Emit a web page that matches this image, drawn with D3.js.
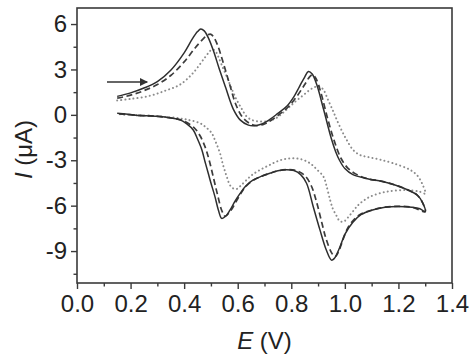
<!DOCTYPE html>
<html><head><meta charset="utf-8">
<script src="https://cdn.jsdelivr.net/npm/d3@7"></script>
<style>body{margin:0;background:#fff}svg{display:block}text{font-family:"Liberation Sans",Arial,sans-serif;fill:#222}</style>
</head><body><svg id="c" width="474" height="356"></svg>
<script>
const xTicks = [0.0,0.2,0.4,0.6,0.8,1.0,1.2,1.4];
const xTickLabels = ["0.0","0.2","0.4","0.6","0.8","1.0","1.2","1.4"];
const xMinor = [0.1,0.3,0.5,0.7,0.9,1.1,1.3];
const yTicks = [-9,-6,-3,0,3,6];
const yTickLabels = ["-9","-6","-3","0","3","6"];
const yMinor = [-10.5,-7.5,-4.5,-1.5,1.5,4.5];

const solidE = [0.15,0.20,0.25,0.30,0.35,0.40,0.43,0.45,0.462,0.475,0.49,0.51,0.53,0.555,0.583,0.61,0.64,0.66,0.69,0.72,0.75,0.785,0.81,0.83,0.85,0.864,0.878,0.895,0.92,0.95,0.965,0.98,1.00,1.03,1.08,1.14,1.19,1.24,1.27,1.29,1.30,
 1.28,1.25,1.20,1.15,1.10,1.06,1.03,1.00,0.98,0.96,0.95,0.93,0.907,0.882,0.857,0.835,0.81,0.78,0.75,0.72,0.69,0.658,0.63,0.609,0.59,0.571,0.555,0.54,0.528,0.515,0.50,0.49,0.478,0.466,0.45,0.434,0.41,0.385,0.35,0.30,0.22,0.15];
const solidI = [1.22,1.45,1.77,2.2,2.95,4.1,5.0,5.5,5.68,5.55,5.1,4.2,3.1,1.8,0.4,-0.35,-0.68,-0.72,-0.6,-0.3,0.1,0.6,1.2,1.85,2.5,2.87,2.7,2.0,0.4,-1.6,-2.4,-3.0,-3.55,-3.95,-4.2,-4.4,-4.65,-5.0,-5.3,-5.8,-6.4,
 -6.2,-6.1,-6.05,-6.1,-6.3,-6.6,-7.1,-7.9,-8.8,-9.5,-9.6,-8.9,-7.6,-6.07,-4.52,-3.95,-3.68,-3.62,-3.7,-3.86,-4.05,-4.3,-4.7,-5.19,-5.7,-6.3,-6.7,-6.84,-6.3,-5.4,-4.5,-3.86,-3.1,-2.3,-1.6,-1.0,-0.6,-0.33,-0.2,-0.1,-0.02,0.1];

const dashedE = [0.15,0.20,0.25,0.30,0.35,0.40,0.44,0.47,0.49,0.50,0.51,0.525,0.545,0.57,0.595,0.62,0.65,0.67,0.70,0.73,0.76,0.79,0.82,0.85,0.87,0.88,0.892,0.91,0.935,0.96,0.985,1.01,1.04,1.08,1.14,1.19,1.24,1.27,1.29,1.30,
 1.25,1.20,1.15,1.10,1.06,1.035,1.01,0.99,0.975,0.963,0.95,0.93,0.915,0.895,0.875,0.85,0.82,0.79,0.75,0.72,0.69,0.66,0.635,0.615,0.595,0.575,0.553,0.54,0.525,0.51,0.495,0.48,0.46,0.44,0.41,0.38,0.30,0.22,0.15];
const dashedI = [1.1,1.3,1.6,2.0,2.6,3.5,4.4,5.0,5.3,5.32,5.15,4.6,3.5,2.0,0.6,-0.2,-0.62,-0.72,-0.6,-0.3,0.1,0.55,1.2,2.0,2.55,2.65,2.4,1.5,-0.2,-1.7,-2.85,-3.5,-3.9,-4.2,-4.4,-4.65,-5.0,-5.3,-5.8,-6.4,
 -6.1,-6.05,-6.1,-6.3,-6.55,-6.9,-7.5,-8.4,-9.1,-9.38,-9.1,-8.2,-7.2,-5.8,-4.7,-4.0,-3.7,-3.62,-3.7,-3.86,-4.05,-4.3,-4.65,-5.1,-5.7,-6.3,-6.7,-6.3,-5.3,-4.2,-3.1,-2.2,-1.4,-0.9,-0.5,-0.3,-0.1,-0.02,0.08];

const dottedE = [0.15,0.20,0.27,0.33,0.385,0.435,0.478,0.503,0.515,0.527,0.545,0.559,0.578,0.596,0.615,0.633,0.655,0.683,0.715,0.745,0.77,0.795,0.82,0.845,0.87,0.89,0.907,0.922,0.937,0.955,0.97,0.99,1.007,1.03,1.056,1.09,1.13,1.18,1.24,1.27,1.29,1.30,
 1.28,1.23,1.156,1.094,1.06,1.044,1.02,0.994,0.98,0.97,0.955,0.945,0.93,0.92,0.895,0.87,0.84,0.808,0.775,0.745,0.715,0.683,0.655,0.633,0.61,0.596,0.582,0.571,0.559,0.545,0.534,0.518,0.503,0.48,0.459,0.42,0.37,0.30,0.22,0.15];
const dottedI = [0.95,1.05,1.25,1.6,2.0,2.8,3.8,4.3,4.25,3.86,3.1,2.54,1.7,1.0,0.4,-0.1,-0.35,-0.44,-0.4,-0.2,0.15,0.55,0.95,1.3,1.66,1.85,1.87,1.6,1.0,0.3,-0.33,-1.1,-1.66,-2.3,-2.65,-2.8,-2.95,-3.2,-3.6,-4.0,-4.6,-5.2,
 -5.08,-4.97,-5.08,-5.41,-5.8,-6.07,-6.6,-7.07,-7.0,-6.7,-6.2,-5.63,-4.6,-4.08,-3.6,-3.2,-2.95,-2.87,-2.92,-3.09,-3.35,-3.64,-3.95,-4.3,-4.7,-4.9,-4.85,-4.64,-4.08,-3.3,-2.54,-1.8,-1.21,-0.8,-0.55,-0.35,-0.2,-0.1,-0.02,0.05];

const arrowE = [0.112, 0.262];
const arrowI = [2.17, 2.17];

const svg = d3.select("#c");
const L = 77, R = 452, T = 8, B = 283;
const x = d3.scaleLinear().domain([0, 1.4]).range([L, R]);
const y = d3.scaleLinear().domain([-11.11, 7.06]).range([B, T]);
const axisColor = "#3a3a3a";

const defs = svg.append("defs");
defs.append("marker").attr("id","ah").attr("viewBox","0 0 10 10").attr("refX",9).attr("refY",5)
  .attr("markerWidth",9).attr("markerHeight",8).attr("markerUnits","userSpaceOnUse").attr("orient","auto")
  .append("path").attr("d","M0,0L10,5L0,10z").attr("fill","#333");

const line = d3.line().x(d => x(d[0])).y(d => y(d[1])).curve(d3.curveCatmullRom.alpha(0.5));
function pts(E, I){ return E.map((e,i)=>[e, I[i]]); }

const g = svg.append("g");
g.append("path").datum(pts(dottedE, dottedI)).attr("d", line).attr("fill","none")
  .attr("stroke","#8c8c8c").attr("stroke-width",2).attr("stroke-dasharray","0.1,4").attr("stroke-linecap","round");
g.append("path").datum(pts(dashedE, dashedI)).attr("d", line).attr("fill","none")
  .attr("stroke","#3c3c3c").attr("stroke-width",1.7).attr("stroke-dasharray","6,3.5");
g.append("path").datum(pts(solidE, solidI)).attr("d", line).attr("fill","none")
  .attr("stroke","#2e2e2e").attr("stroke-width",1.5);

svg.append("line").attr("x1", x(arrowE[0])).attr("x2", x(arrowE[1])).attr("y1", y(arrowI[0])).attr("y2", y(arrowI[1]))
  .attr("stroke","#333").attr("stroke-width",1.4).attr("marker-end","url(#ah)");

// frame
svg.append("rect").attr("x", L).attr("y", T).attr("width", R-L).attr("height", B-T)
  .attr("fill","none").attr("stroke",axisColor).attr("stroke-width",1.6);

// x axis
const xa = d3.axisBottom(x).tickValues(xTicks).tickSize(6).tickPadding(6).tickFormat((d,i)=>xTickLabels[i]);
const gx = svg.append("g").attr("transform",`translate(0,${B})`).call(xa);
gx.select(".domain").remove();
gx.selectAll(".tick line").attr("stroke",axisColor).attr("stroke-width",1.4);
gx.selectAll(".tick text").attr("font-size",24).attr("fill","#222").attr("font-family","Liberation Sans, Arial, sans-serif");
const gxm = svg.append("g").attr("transform",`translate(0,${B})`).call(d3.axisBottom(x).tickValues(xMinor).tickSize(3.5).tickFormat(""));
gxm.select(".domain").remove();
gxm.selectAll(".tick line").attr("stroke",axisColor).attr("stroke-width",1.4);

// y axis
const ya = d3.axisLeft(y).tickValues(yTicks).tickSize(6).tickPadding(4).tickFormat((d,i)=>yTickLabels[i]);
const gy = svg.append("g").attr("transform",`translate(${L},0)`).call(ya);
gy.select(".domain").remove();
gy.selectAll(".tick line").attr("stroke",axisColor).attr("stroke-width",1.4);
gy.selectAll(".tick text").attr("font-size",24).attr("fill","#222").attr("font-family","Liberation Sans, Arial, sans-serif");
const gym = svg.append("g").attr("transform",`translate(${L},0)`).call(d3.axisLeft(y).tickValues(yMinor).tickSize(3.5).tickFormat(""));
gym.select(".domain").remove();
gym.selectAll(".tick line").attr("stroke",axisColor).attr("stroke-width",1.4);

// axis titles
const xt = svg.append("text").attr("x", (L+R)/2).attr("y", 349).attr("text-anchor","middle").attr("font-size",24);
xt.append("tspan").attr("font-style","italic").text("E");
xt.append("tspan").text(" (V)");
const yt = svg.append("text").attr("transform",`translate(32,${(T+B)/2+4}) rotate(-90)`).attr("text-anchor","middle").attr("font-size",24);
yt.append("tspan").attr("font-style","italic").text("I");
yt.append("tspan").text(" (μA)");
</script></body></html>
